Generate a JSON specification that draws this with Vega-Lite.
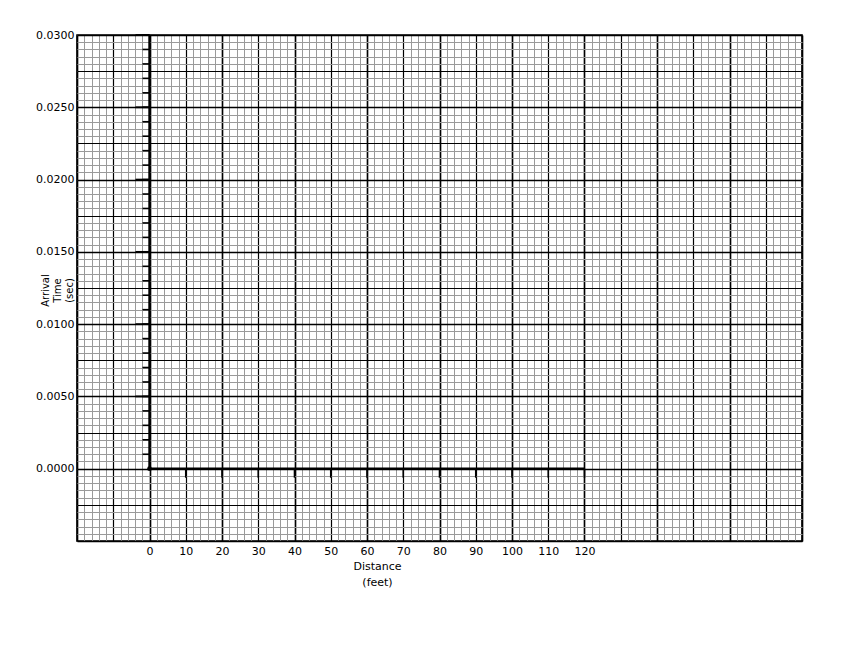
{
  "$schema": "https://vega.github.io/schema/vega-lite/v6.json",
  "autosize": "none",
  "width": 725,
  "height": 506,
  "padding": {"left": 77, "top": 35, "right": 49, "bottom": 106},
  "background": "white",
  "config": {
    "view": {"stroke": "black", "strokeWidth": 1.6},
    "font": "DejaVu Sans",
    "axis": {"labelFont": "DejaVu Sans", "titleFont": "DejaVu Sans", "labelColor": "black", "titleColor": "black"}
  },
  "datasets": {
    "yticks": [
      {"t": 0.001}, {"t": 0.002}, {"t": 0.003}, {"t": 0.004}, {"t": 0.005},
      {"t": 0.006}, {"t": 0.007}, {"t": 0.008}, {"t": 0.009}, {"t": 0.010},
      {"t": 0.011}, {"t": 0.012}, {"t": 0.013}, {"t": 0.014}, {"t": 0.015},
      {"t": 0.016}, {"t": 0.017}, {"t": 0.018}, {"t": 0.019}, {"t": 0.020},
      {"t": 0.021}, {"t": 0.022}, {"t": 0.023}, {"t": 0.024}, {"t": 0.025},
      {"t": 0.026}, {"t": 0.027}, {"t": 0.028}, {"t": 0.029}, {"t": 0.030}
    ],
    "ymajor": [
      {"t": 0.005}, {"t": 0.010}, {"t": 0.015}, {"t": 0.020}, {"t": 0.025}, {"t": 0.030}
    ],
    "xticks": [
      {"d": 10}, {"d": 20}, {"d": 30}, {"d": 40}, {"d": 50}, {"d": 60},
      {"d": 70}, {"d": 80}, {"d": 90}, {"d": 100}, {"d": 110}, {"d": 120}
    ],
    "axes": [
      {"x": 0, "x2": 0, "y": 0, "y2": 0.03},
      {"x": 0, "x2": 120, "y": 0, "y2": 0}
    ],
    "origin": [{"d": 0, "t": 0}]
  },
  "layer": [
    {
      "data": {"name": "yticks"},
      "mark": {"type": "tick", "orient": "horizontal", "size": 7, "thickness": 1.6, "xOffset": -3.5, "color": "black", "opacity": 1},
      "encoding": {
        "x": {"datum": 0, "type": "quantitative", "scale": {"domain": [-20, 180], "nice": false, "zero": false},
          "axis": {"orient": "bottom", "grid": true, "labels": false, "ticks": false, "domain": false, "title": null, "tickCount": 100, "gridColor": "#9a9a9a", "gridWidth": 1}},
        "y": {"field": "t", "type": "quantitative", "scale": {"domain": [-0.005, 0.03], "nice": false, "zero": false},
          "axis": {"orient": "left", "grid": true, "labels": false, "ticks": false, "domain": false, "title": null, "tickCount": 70, "gridColor": "#9a9a9a", "gridWidth": 1}}
      }
    },
    {
      "data": {"name": "ymajor"},
      "mark": {"type": "tick", "orient": "horizontal", "size": 14, "thickness": 1.8, "xOffset": -7, "color": "black", "opacity": 1},
      "encoding": {
        "x": {"datum": 0, "type": "quantitative", "scale": {"domain": [-20, 180], "nice": false, "zero": false},
          "axis": {"orient": "bottom", "grid": true, "labels": false, "ticks": false, "domain": false, "title": null,
            "values": [-20, -10, 0, 10, 20, 30, 40, 50, 60, 70, 80, 90, 100, 110, 120, 130, 140, 150, 160, 170, 180],
            "gridColor": "black", "gridWidth": 1.2}},
        "y": {"field": "t", "type": "quantitative", "scale": {"domain": [-0.005, 0.03], "nice": false, "zero": false},
          "axis": {"orient": "left", "grid": true, "labels": false, "ticks": false, "domain": false, "title": null,
            "values": [-0.005, -0.0025, 0, 0.0025, 0.005, 0.0075, 0.01, 0.0125, 0.015, 0.0175, 0.02, 0.0225, 0.025, 0.0275, 0.03],
            "gridColor": "black", "gridWidth": 1.2}}
      }
    },
    {
      "data": {"name": "axes"},
      "mark": {"type": "rule", "color": "black", "strokeWidth": 2.4},
      "encoding": {
        "x": {"field": "x", "type": "quantitative", "scale": {"domain": [-20, 180], "nice": false, "zero": false},
          "axis": {"orient": "bottom", "grid": true, "labels": false, "ticks": false, "domain": false, "title": null,
            "values": [-20, 0, 20, 40, 60, 80, 100, 120, 140, 160, 180],
            "gridColor": "black", "gridWidth": 1.5}},
        "x2": {"field": "x2"},
        "y": {"field": "y", "type": "quantitative", "scale": {"domain": [-0.005, 0.03], "nice": false, "zero": false},
          "axis": {"orient": "left", "grid": true, "labels": false, "ticks": false, "domain": false, "title": null,
            "values": [-0.005, 0, 0.005, 0.01, 0.015, 0.02, 0.025, 0.03],
            "gridColor": "black", "gridWidth": 1.5}},
        "y2": {"field": "y2"}
      }
    },
    {
      "data": {"name": "xticks"},
      "mark": {"type": "tick", "orient": "vertical", "size": 9, "thickness": 1.6, "yOffset": 4.5, "color": "black", "opacity": 1},
      "encoding": {
        "x": {"field": "d", "type": "quantitative", "scale": {"domain": [-20, 180], "nice": false, "zero": false},
          "axis": {"orient": "bottom", "grid": false, "ticks": false, "domain": false,
            "values": [0, 10, 20, 30, 40, 50, 60, 70, 80, 90, 100, 110, 120],
            "format": "d", "labelFontSize": 11, "labelPadding": 4,
            "title": ["Distance", "(feet)"], "titleFontSize": 11, "titleFontWeight": "normal",
            "titleX": 300, "titleY": 19, "titleBaseline": "top", "titleAlign": "center", "titleLineHeight": 16}},
        "y": {"datum": 0, "type": "quantitative", "scale": {"domain": [-0.005, 0.03], "nice": false, "zero": false},
          "axis": {"orient": "left", "grid": false, "ticks": false, "domain": false,
            "values": [0, 0.005, 0.01, 0.015, 0.02, 0.025, 0.03],
            "format": ".4f", "labelFontSize": 11, "labelPadding": 3,
            "title": ["Arrival", "Time", "(sec)"], "titleFontSize": 10, "titleFontWeight": "normal",
            "titleAngle": 270, "titleX": -37, "titleY": 255, "titleBaseline": "top", "titleAlign": "center", "titleLineHeight": 12}}
      }
    },
    {
      "data": {"name": "origin"},
      "mark": {"type": "point", "filled": true, "color": "black", "size": 22, "opacity": 1},
      "encoding": {
        "x": {"field": "d", "type": "quantitative", "scale": {"domain": [-20, 180], "nice": false, "zero": false}, "axis": null},
        "y": {"field": "t", "type": "quantitative", "scale": {"domain": [-0.005, 0.03], "nice": false, "zero": false}, "axis": null}
      }
    }
  ],
  "resolve": {"axis": {"x": "independent", "y": "independent"}}
}
